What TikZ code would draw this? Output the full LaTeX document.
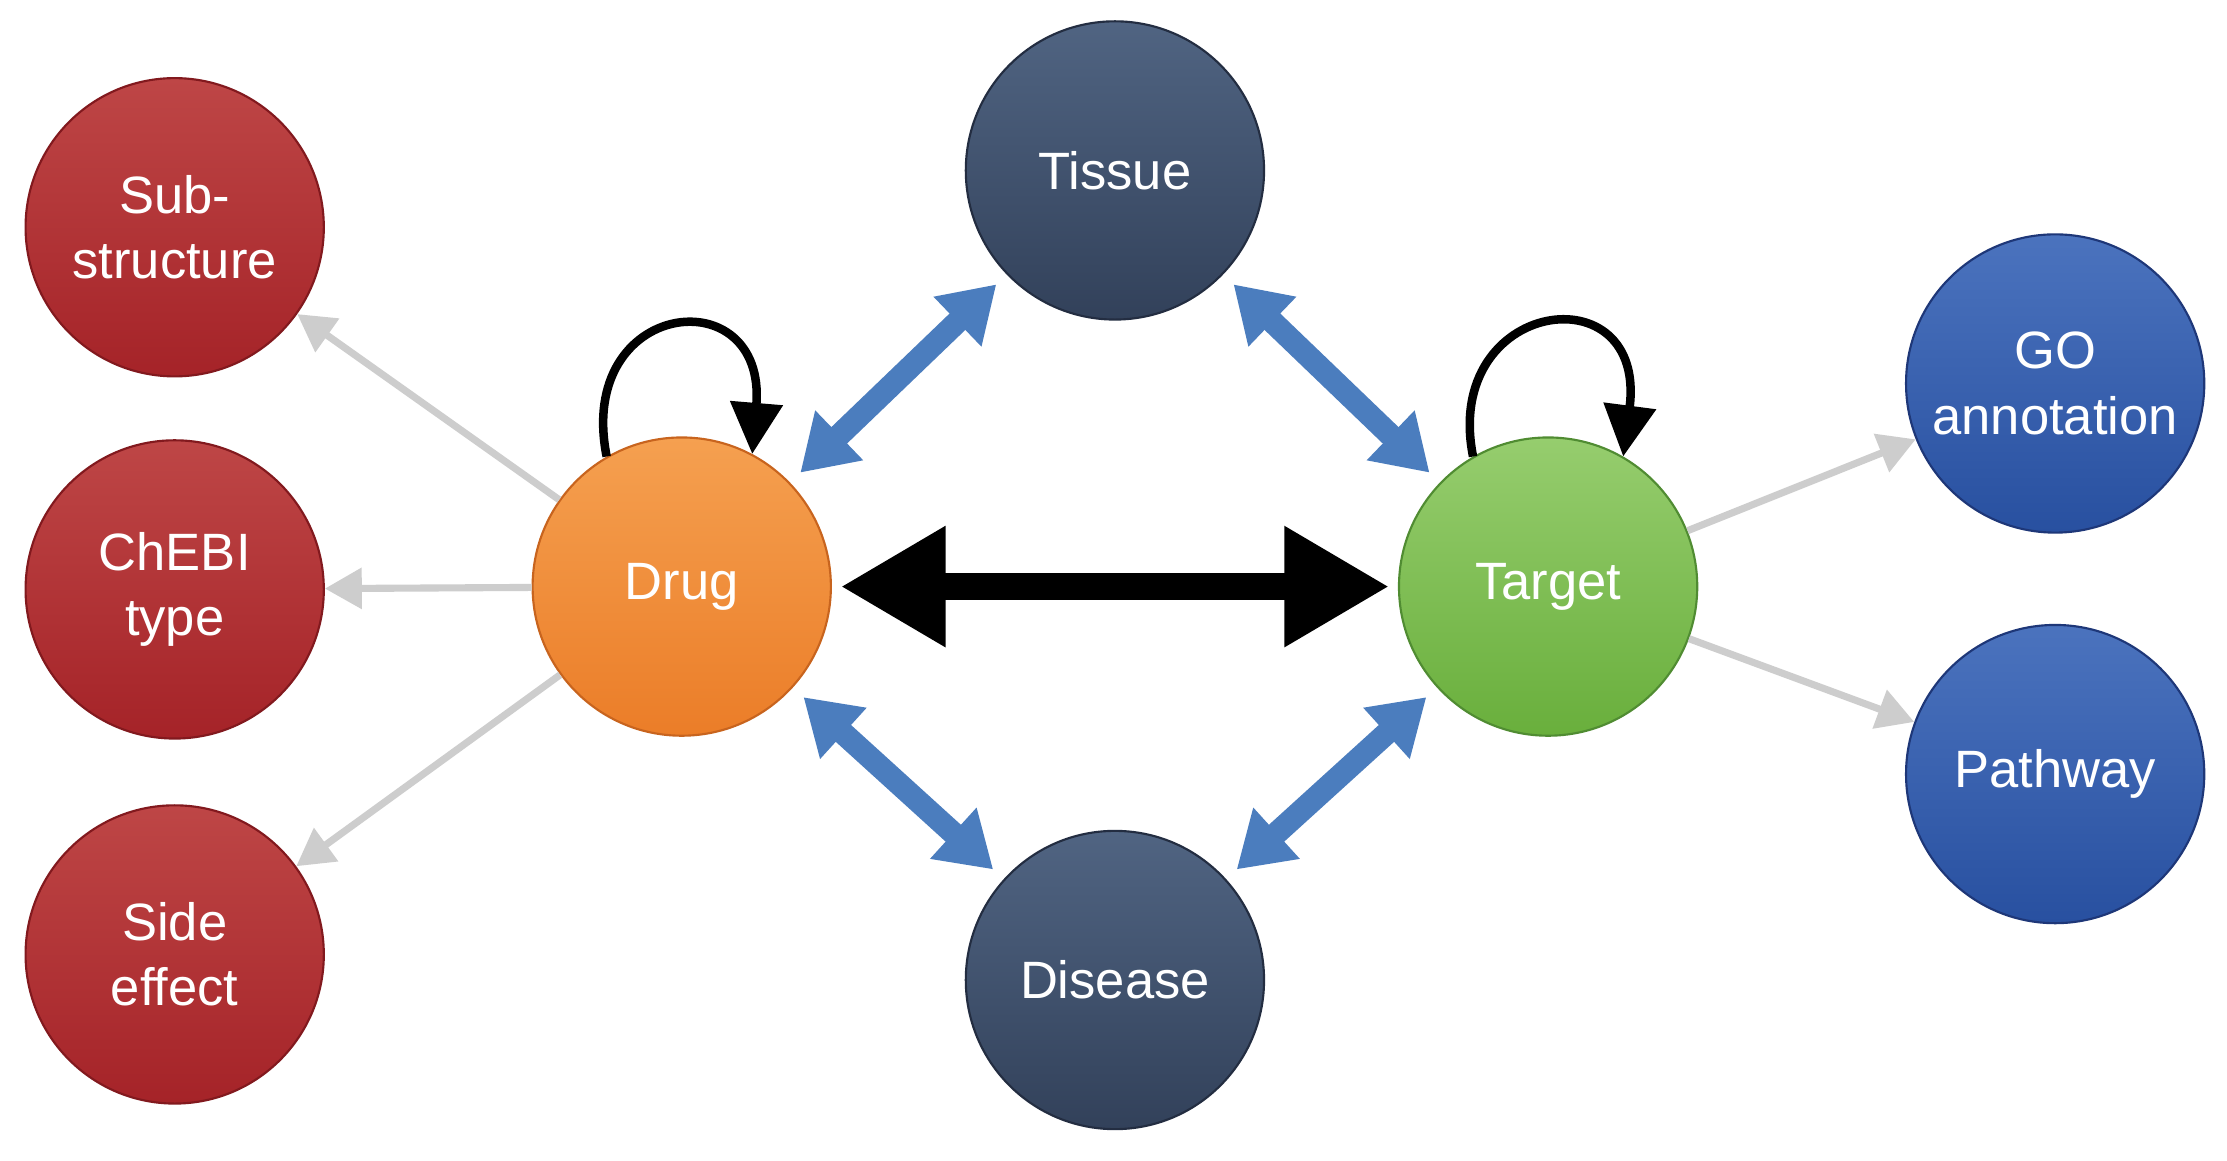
\documentclass[tikz,border=0pt]{standalone}
\usepackage{fontspec}
\setmainfont{Liberation Sans}
\usetikzlibrary{arrows.meta}
\begin{document}
\begin{tikzpicture}[x=1pt,y=-1pt,
 ball/.style={circle,minimum size=210pt,inner sep=0pt,text=white,font=\fontsize{37}{46}\selectfont,align=center,line width=1.5pt},
 redb/.style={ball,draw={rgb,255:red,130;green,25;blue,30},top color={rgb,255:red,190;green,70;blue,70},bottom color={rgb,255:red,165;green,35;blue,40}},
 slate/.style={ball,top color={rgb,255:red,80;green,100;blue,130},bottom color={rgb,255:red,50;green,65;blue,90},draw={rgb,255:red,35;green,45;blue,65}},
 blueb/.style={ball,top color={rgb,255:red,75;green,115;blue,190},bottom color={rgb,255:red,40;green,80;blue,160},draw={rgb,255:red,30;green,55;blue,120}},
 orangeb/.style={ball,top color={rgb,255:red,245;green,160;blue,80},bottom color={rgb,255:red,235;green,125;blue,40},draw={rgb,255:red,200;green,100;blue,30}},
 greenb/.style={ball,top color={rgb,255:red,150;green,205;blue,110},bottom color={rgb,255:red,105;green,175;blue,60},draw={rgb,255:red,80;green,140;blue,50}},
 grayarr/.style={draw={rgb,255:red,205;green,205;blue,205},line width=5pt,-{Triangle[length=26pt,width=28pt]}},
 bluearr/.style={draw={rgb,255:red,75;green,125;blue,190},line width=16pt,{Triangle[length=38pt,width=46pt]}-{Triangle[length=38pt,width=46pt]},shorten <=10pt,shorten >=10pt},
 blackarr/.style={draw=black,line width=19pt,{Triangle[length=74pt,width=80pt]}-{Triangle[length=74pt,width=80pt]},shorten <=6pt,shorten >=6pt},
 loop/.style={draw=black,line width=6pt,-{Triangle[length=36pt,width=36pt]}}
]
\useasboundingbox (0,0) rectangle (1568,817);
\fill[white] (0,0) rectangle (1568,817);
\node[redb] (sub) at (123,160) {Sub-\\structure};
\node[redb] (che) at (123,415) {ChEBI\\type};
\node[redb] (side) at (123,672) {Side\\effect};
\node[orangeb] (drug) at (480,413) {Drug};
\node[slate] (tis) at (785,120) {Tissue};
\node[slate] (dis) at (785,690) {Disease};
\node[greenb] (tar) at (1090,413) {Target};
\node[blueb] (go) at (1447,270) {GO\\annotation};
\node[blueb] (pw) at (1447,545) {Pathway};
\draw[grayarr] (drug) -- (sub);
\draw[grayarr] (drug) -- (che);
\draw[grayarr] (drug) -- (side);
\draw[grayarr] (tar) -- (go);
\draw[grayarr] (tar) -- (pw);
\draw[bluearr] (tis) -- (drug);
\draw[bluearr] (tis) -- (tar);
\draw[bluearr] (dis) -- (drug);
\draw[bluearr] (dis) -- (tar);
\draw[blackarr] (drug) -- (tar);
\draw[loop] (drug.120) .. controls (405,210) and (540,195) .. (drug.62);
\draw[loop] (tar.120) .. controls (1015,210) and (1160,190) .. (tar.60);
\end{tikzpicture}
\end{document}
